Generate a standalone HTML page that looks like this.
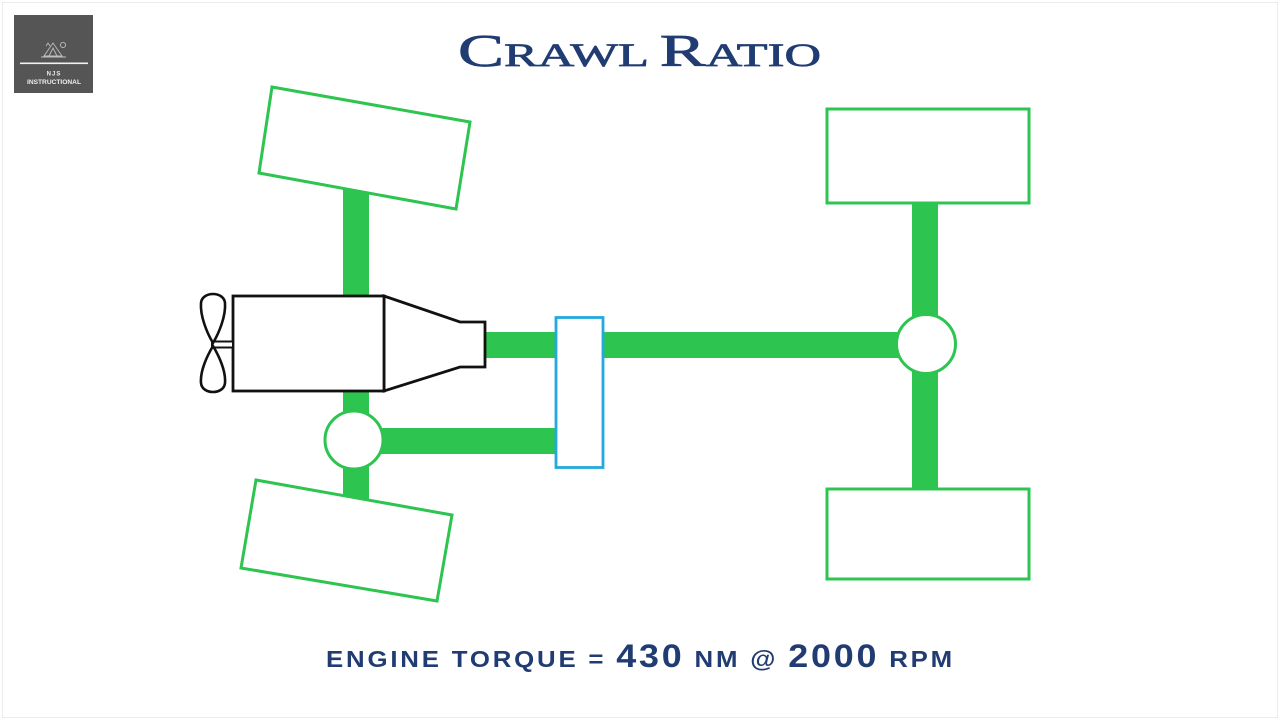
<!DOCTYPE html>
<html>
<head>
<meta charset="utf-8">
<style>
  html, body { margin:0; padding:0; background:#ffffff; }
  body { width:1280px; height:720px; overflow:hidden; }
  svg { display:block; }
</style>
</head>
<body>
<svg width="1280" height="720" viewBox="0 0 1280 720" xmlns="http://www.w3.org/2000/svg">
  <rect x="0" y="0" width="1280" height="720" fill="#ffffff"/>
  <rect x="2.5" y="2.5" width="1275" height="715" fill="none" stroke="#ececec" stroke-width="1"/>

  <!-- Logo -->
  <rect x="14" y="15" width="79" height="78" fill="#555555"/>
  <g stroke="#bdbdbd" stroke-width="0.9" fill="none">
    <path d="M44,56 L53,43 L62,56 Z"/>
    <path d="M49,56 L53,48 L57,56"/>
    <path d="M41,57 L66,57"/>
    <circle cx="63" cy="45" r="2.6"/>
    <path d="M46,46 L48,43 L50,46"/>
  </g>
  <rect x="20" y="62.5" width="68" height="1.6" fill="#f2f2f2"/>
  <text x="54" y="75.5" text-anchor="middle" font-family="Liberation Sans, sans-serif" font-weight="bold" font-size="6" fill="#eeeeee" letter-spacing="1">NJS</text>
  <text x="54" y="84" text-anchor="middle" font-family="Liberation Sans, sans-serif" font-weight="bold" font-size="6" fill="#eeeeee" textLength="54" lengthAdjust="spacingAndGlyphs">INSTRUCTIONAL</text>

  <!-- Title -->
  <text x="458" y="66" font-family="Liberation Serif, serif" font-weight="normal" fill="#213c72" stroke="#213c72" stroke-width="0.7" textLength="363" lengthAdjust="spacingAndGlyphs"><tspan font-size="45">C</tspan><tspan font-size="33">RAWL </tspan><tspan font-size="45">R</tspan><tspan font-size="33">ATIO</tspan></text>

  <!-- Green axles / shafts (behind) -->
  <g fill="#2dc450">
    <rect x="343" y="180" width="26" height="320"/>
    <rect x="912" y="200" width="26" height="292"/>
    <rect x="600" y="332" width="310" height="26"/>
    <rect x="478" y="332" width="82" height="26"/>
    <rect x="360" y="428" width="198" height="26"/>
  </g>

  <!-- Wheels -->
  <g fill="#ffffff" stroke="#2dc450" stroke-width="3" stroke-linejoin="miter">
    <polygon points="272,87 470,122 456,209 259,173"/>
    <polygon points="256,480 452,515 437,601 241,568"/>
    <rect x="827" y="109" width="202" height="94"/>
    <rect x="827" y="489" width="202" height="90"/>
  </g>

  <!-- Differentials -->
  <g fill="#ffffff" stroke="#2dc450" stroke-width="3">
    <circle cx="354" cy="440" r="29"/>
    <circle cx="926" cy="344" r="29.5"/>
  </g>

  <!-- Transfer case -->
  <rect x="556" y="317.5" width="47" height="150" fill="#ffffff" stroke="#22a9de" stroke-width="2.8"/>

  <!-- Engine + gearbox -->
  <g fill="#ffffff" stroke="#111111" stroke-width="2.8" stroke-linejoin="miter">
    <polygon points="384,296 460,322 485,322 485,367 460,367 384,391"/>
    <rect x="233" y="296" width="151" height="95"/>
    <rect x="212" y="341.5" width="21" height="6" stroke-width="2"/>
    <path d="M213,343 C207,333 200,316 201,303 C202,291 224,291 225,303 C226,316 219,333 213,343 Z" stroke-width="2.6"/>
    <path d="M213,346 C207,356 200,371 201,383 C202,395 224,395 225,383 C226,371 219,356 213,346 Z" stroke-width="2.6"/>
  </g>

  <!-- Bottom caption -->
  <text x="326" y="667" font-family="Liberation Sans, sans-serif" font-weight="bold" fill="#213c72" letter-spacing="2.5" textLength="629" lengthAdjust="spacingAndGlyphs"><tspan font-size="23">ENGINE TORQUE = </tspan><tspan font-size="32">430</tspan><tspan font-size="23"> NM @ </tspan><tspan font-size="32">2000</tspan><tspan font-size="23"> RPM</tspan></text>
</svg>
</body>
</html>
